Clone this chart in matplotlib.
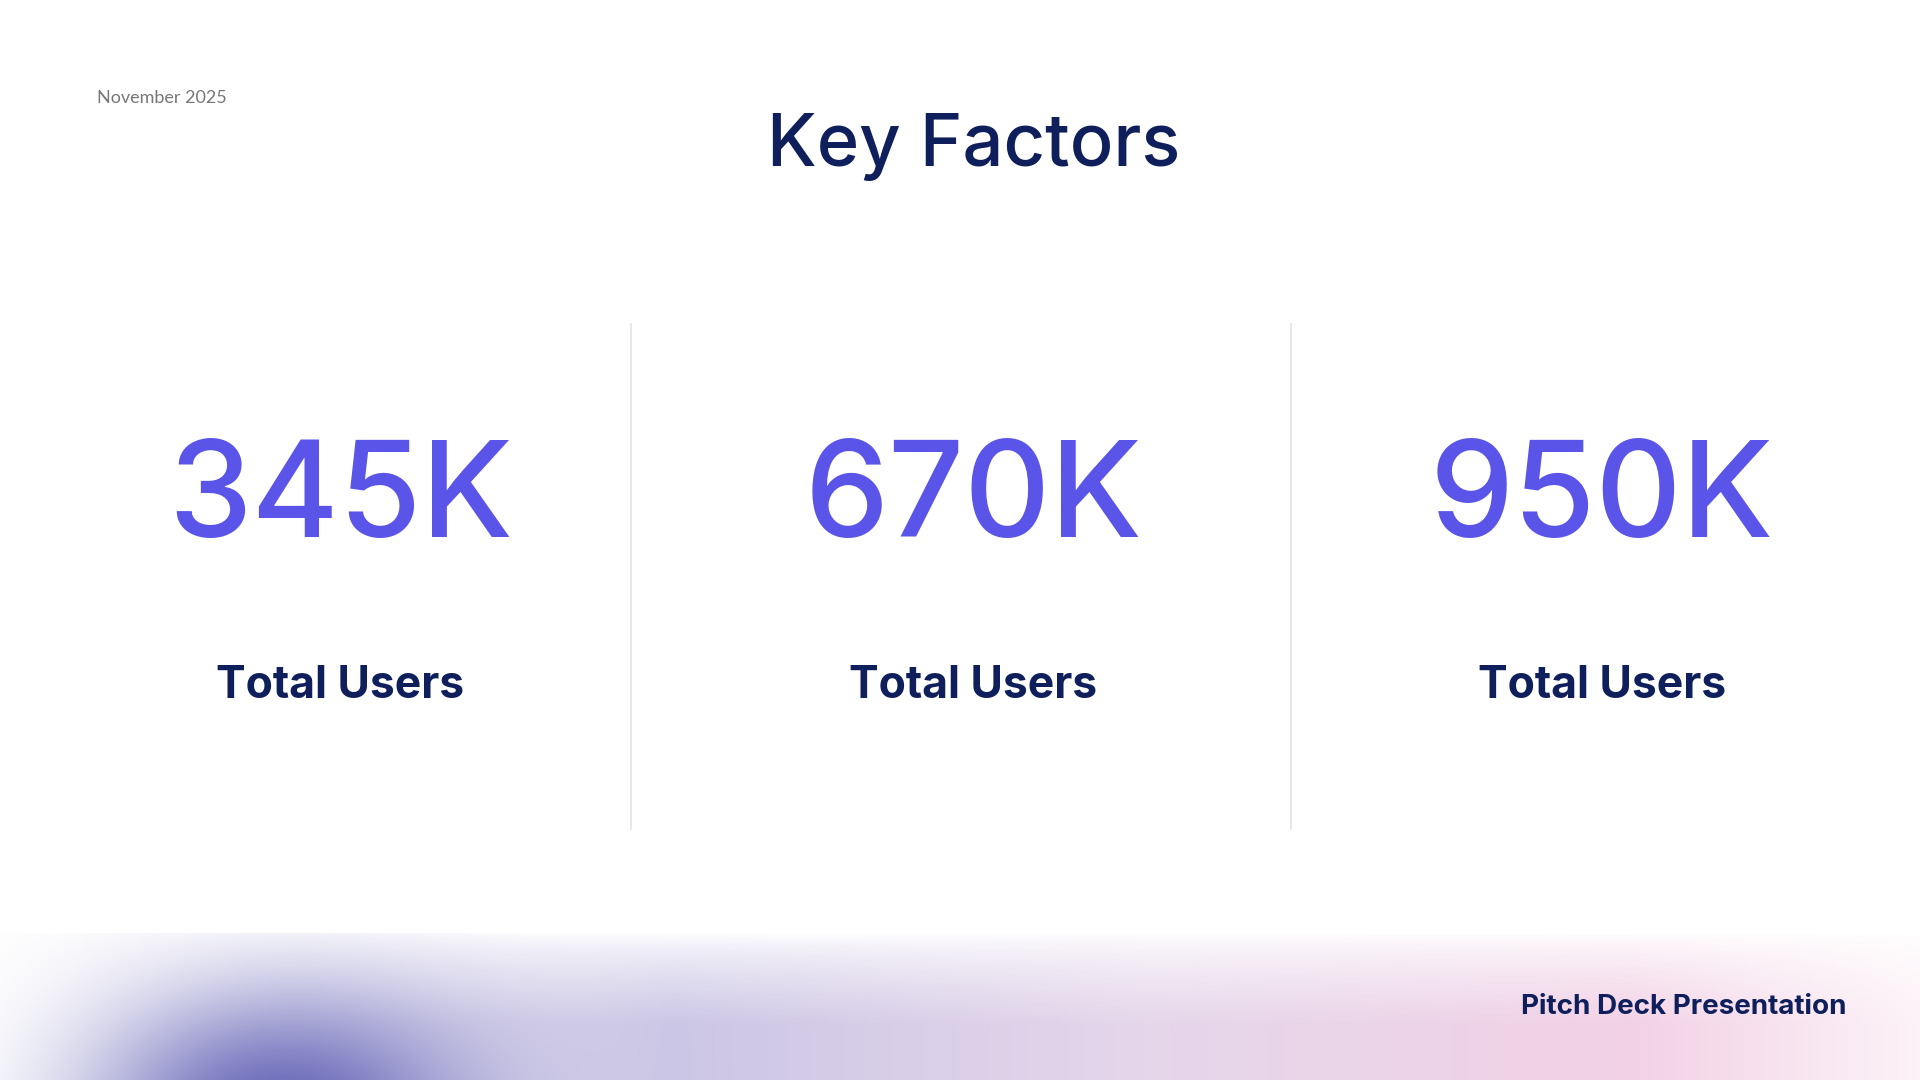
import numpy as np
import matplotlib.pyplot as plt

# DATA
DATE_LABEL = "November 2025"
TITLE = "Key Factors"
VALUES = ["345K", "670K", "950K"]
LABELS = ["Total Users", "Total Users", "Total Users"]
FOOTER = "Pitch Deck Presentation"

NAVY = "#0e1f5b"
PURPLE = "#5a55e8"
W, H = 1568, 882

fig = plt.figure(figsize=(19.2, 10.8), dpi=100)
ax = fig.add_axes([0, 0, 1, 1])
ax.set_xlim(0, W)
ax.set_ylim(H, 0)
ax.axis("off")

# bottom gradient band
band_top = 762
xs = np.linspace(0, 1, 800)
ys = np.linspace(0, 1, 120)
X, Y = np.meshgrid(xs, ys)
stops_x = [0.0, 0.12, 0.35, 0.6, 0.85, 1.0]
stops_c = np.array([[1, 1, 1], [0.93, 0.92, 0.96], [0.80, 0.78, 0.90],
                    [0.90, 0.84, 0.92], [0.95, 0.82, 0.90], [0.99, 0.95, 0.97]])
base = np.stack([np.interp(X, stops_x, stops_c[:, i]) for i in range(3)], axis=-1)
fade = np.clip(Y * 1.6, 0, 1)[..., None] ** 0.7
img = 1 - (1 - base) * fade
# dark blob bottom-left
bx = (X * W - 230) / 150
by = (Y * (H - band_top) - 150) / 95
blob = np.exp(-(bx ** 2 + by ** 2))[..., None]
blob_c = np.array([0.40, 0.40, 0.72])
img = img * (1 - blob) + blob_c * blob
ax.imshow(np.clip(img, 0, 1), extent=[0, W, H, band_top], aspect="auto", zorder=0)

# header
ax.text(79, 80, DATE_LABEL, fontsize=13, color="#777777", va="center", ha="left", family="Lato")
ax.text(795, 120, TITLE, fontsize=52, color=NAVY, va="center", ha="center", family="Inter", fontweight="medium")

# columns
centers = [278, 795, 1308]
for cx, v, lab in zip(centers, VALUES, LABELS):
    ax.text(cx, 410, v, fontsize=96, color=PURPLE, va="center", ha="center", family="Inter", fontweight="medium")
    ax.text(cx, 560, lab, fontsize=32, color=NAVY, va="center", ha="center", family="Inter", fontweight="bold")

for dx in [515, 1054]:
    ax.plot([dx, dx], [265, 677], color="#e3e3e3", lw=1.2)

ax.text(1508, 822, FOOTER, fontsize=20, color=NAVY, va="center", ha="right", family="Inter", fontweight="bold")

fig.savefig("out.png", dpi=100)
